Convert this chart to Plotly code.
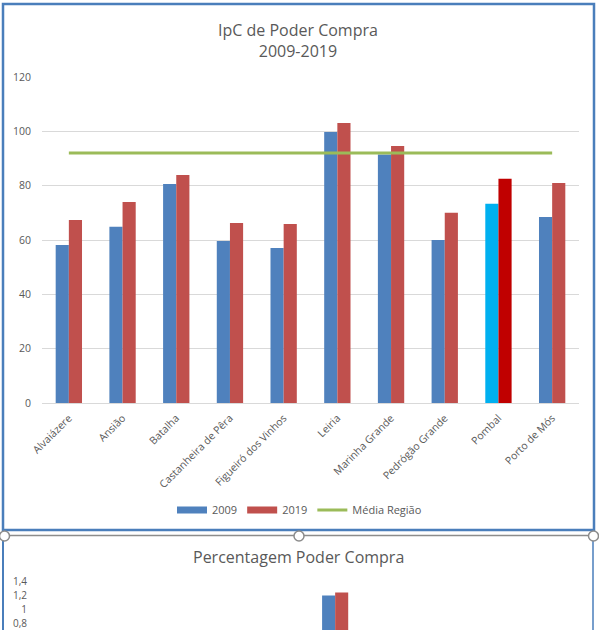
import plotly.graph_objs as go

# chart data

concelhos = ['Alvaiázere', 'Ansião', 'Batalha', 'Castanheira de Pêra',
             'Figueiró dos Vinhos', 'Leiria', 'Marinha Grande',
             'Pedrógão Grande', 'Pombal', 'Porto de Mós']

ipc_2009 = [58.2, 64.9, 80.6, 59.6, 57.1, 99.8, 91.5, 60.0, 73.3, 68.5]
ipc_2019 = [67.4, 74.0, 83.9, 66.3, 65.9, 103.1, 94.6, 70.0, 82.5, 81.0]
media_regiao = [92, 92, 92, 92, 92, 92, 92, 92, 92, 92]

# second chart (only the top of it is visible)
pct_2009 = [None, None, None, None, None, 1.20, None, None, None, None]
pct_2019 = [None, None, None, None, None, 1.243, None, None, None, None]

y_ticks = [0, 20, 40, 60, 80, 100, 120]
y2_ticks = [0.8, 1, 1.2, 1.4]

W, H = 599, 630
BLUE = '#4F81BD'
RED = '#C0504D'
GREEN = '#9BBB59'
GREY = '#595959'
FONT = 'Open Sans'


def px(x):
    return x / W


def py(y):
    return 1 - y / H


# Pombal is highlighted with its own colours
cols_2009 = ['#00B0F0' if c == 'Pombal' else BLUE for c in concelhos]
cols_2019 = ['#C00000' if c == 'Pombal' else RED for c in concelhos]

trace0 = go.Bar(x=concelhos, y=ipc_2009, name='2009', showlegend=False,
                marker=dict(color=cols_2009, line=dict(width=0)))
trace1 = go.Bar(x=concelhos, y=ipc_2019, name='2019', showlegend=False,
                marker=dict(color=cols_2019, line=dict(width=0)))
trace2 = go.Scatter(x=concelhos, y=media_regiao, name='Média Região',
                    mode='lines', line=dict(color=GREEN, width=3))

# legend entries drawn as wide rectangles, like the Excel legend
leg0 = go.Scatter(x=[None], y=[None], name='2009', mode='lines',
                  line=dict(color=BLUE, width=7))
leg1 = go.Scatter(x=[None], y=[None], name='2019', mode='lines',
                  line=dict(color=RED, width=7))

trace3 = go.Bar(x=concelhos, y=pct_2009, xaxis='x2', yaxis='y2',
                marker=dict(color=BLUE, line=dict(width=0)), showlegend=False)
trace4 = go.Bar(x=concelhos, y=pct_2019, xaxis='x2', yaxis='y2',
                marker=dict(color=RED, line=dict(width=0)), showlegend=False)

data = [trace0, trace1, leg0, leg1, trace2, trace3, trace4]

# frames and selection handles
shapes = [
    dict(type='rect', xref='paper', yref='paper',
         x0=px(3), x1=px(594), y0=py(4), y1=py(530),
         line=dict(color='#4A7EBB', width=2.5)),
    dict(type='line', xref='paper', yref='paper',
         x0=px(4), x1=px(594), y0=py(535.5), y1=py(535.5),
         line=dict(color='#8C8C8C', width=1.5)),
    dict(type='line', xref='paper', yref='paper',
         x0=px(3), x1=px(3), y0=py(535), y1=py(632),
         line=dict(color='#4A7EBB', width=2)),
    dict(type='line', xref='paper', yref='paper',
         x0=px(593), x1=px(593), y0=py(535), y1=py(632),
         line=dict(color='#4A7EBB', width=1.5)),
]
for hx in [4.5, 299, 593.5]:
    shapes.append(dict(type='circle', xref='paper', yref='paper',
                       xsizemode='pixel', ysizemode='pixel',
                       xanchor=px(hx), yanchor=py(536),
                       x0=-5, x1=5, y0=-5, y1=5,
                       fillcolor='white', line=dict(color='#8C8C8C', width=1.5)))

annotations = [
    dict(text='IpC de Poder Compra<br>2009-2019', xref='paper', yref='paper',
         x=px(298), y=py(40), xanchor='center', yanchor='middle', showarrow=False,
         font=dict(family=FONT, size=16, color=GREY)),
    dict(text='Percentagem Poder Compra', xref='paper', yref='paper',
         x=px(298), y=py(557), xanchor='center', yanchor='middle', showarrow=False,
         font=dict(family=FONT, size=16, color=GREY)),
]

layout = go.Layout(
    width=W, height=H,
    margin=dict(l=0, r=0, t=0, b=0, pad=0, autoexpand=False),
    paper_bgcolor='white', plot_bgcolor='white',
    font=dict(family=FONT, size=10, color=GREY),
    separators=',.',
    barmode='group', bargap=0.51, bargroupgap=0,
    xaxis=dict(domain=[px(42), px(579)], tickangle=-45, showgrid=False,
               showline=False, ticks='', ticklabelstandoff=6,
               tickfont=dict(size=10.5, color=GREY), automargin=False),
    yaxis=dict(domain=[py(403), py(77)], range=[0, 120], tickvals=y_ticks,
               showgrid=True, gridcolor='#D9D9D9', gridwidth=1,
               zeroline=True, zerolinecolor='#D9D9D9', zerolinewidth=1,
               ticks='', ticklabelstandoff=10, automargin=False,
               tickfont=dict(size=10.5, color=GREY)),
    xaxis2=dict(domain=[px(42), px(575)], anchor='y2', showticklabels=False,
                showgrid=False, showline=False, ticks='', automargin=False),
    yaxis2=dict(domain=[0, py(581.5)], range=[0.7071, 1.4], tickvals=y2_ticks,
                anchor='x2', showgrid=False, zeroline=False, ticks='',
                ticklabelstandoff=14, automargin=False, ticklabeloverflow='allow',
                tickfont=dict(size=10, color=GREY)),
    legend=dict(orientation='h', x=0.5, xanchor='center', y=py(510),
                yanchor='middle', bgcolor='rgba(0,0,0,0)',
                font=dict(size=11, color=GREY), traceorder='normal',
                itemwidth=30),
    shapes=shapes,
    annotations=annotations,
)

fig = go.Figure(data=data, layout=layout)

fig.write_html('out.html', config=dict(displayModeBar=False),
               post_script="document.body.style.margin='0';"
                           "document.body.style.overflow='hidden';")
